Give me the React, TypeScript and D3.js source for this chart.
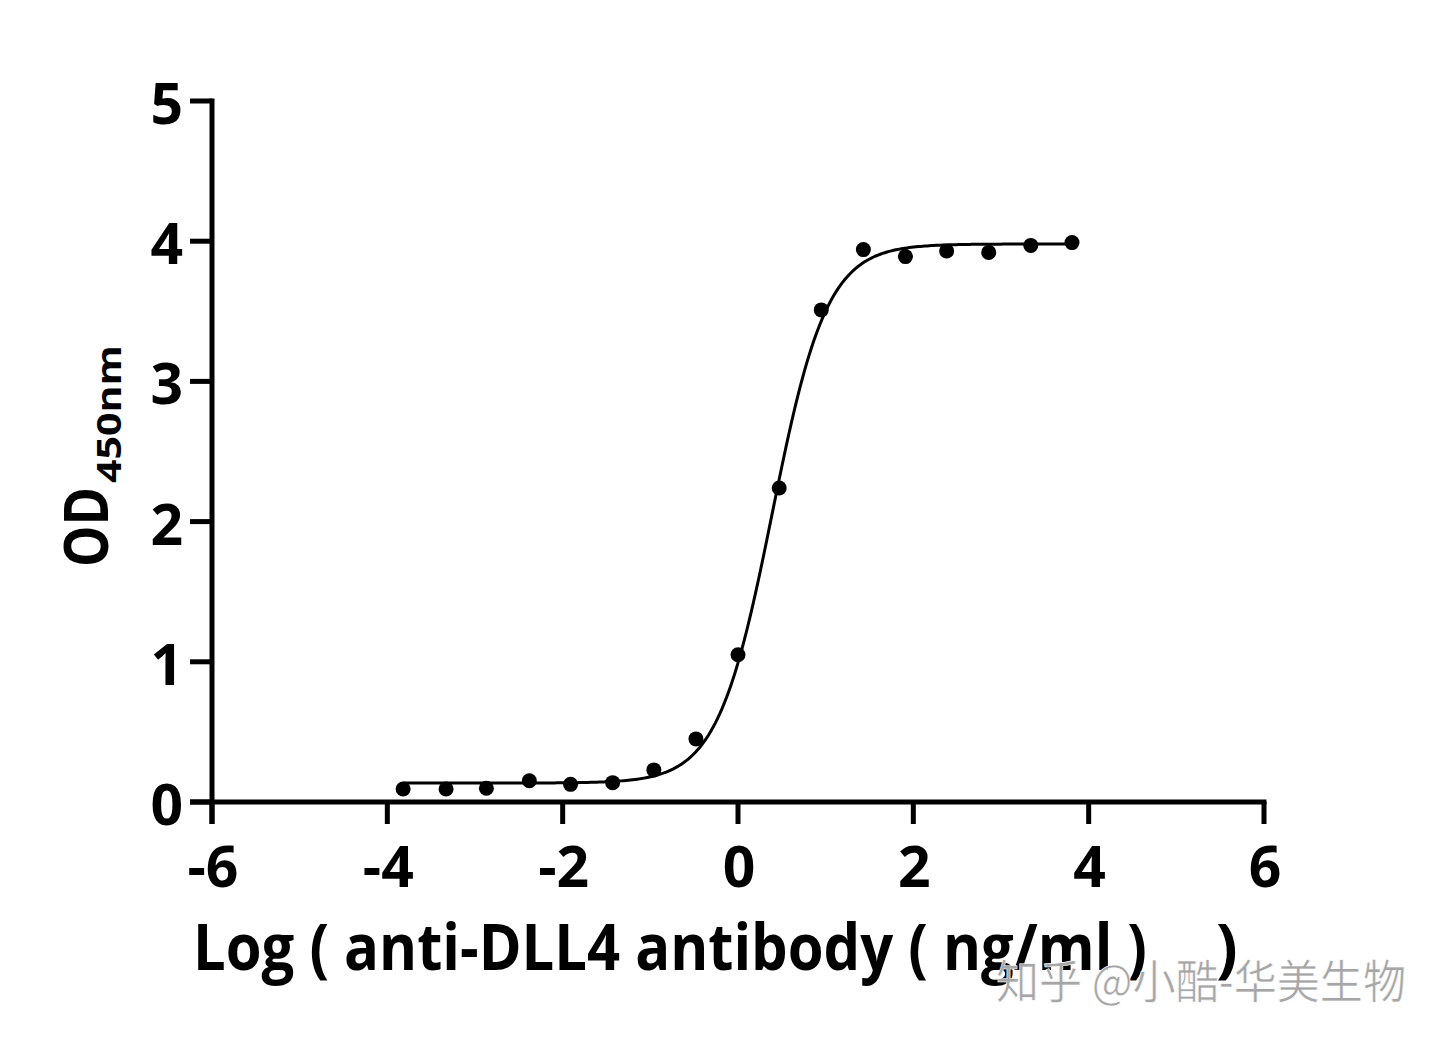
import React from "react";
import * as d3 from "d3";

// Measured data (log10 concentration, OD450)
const logConc = [-3.82, -3.33, -2.87, -2.38, -1.91, -1.43, -0.96, -0.48, 0.0, 0.47, 0.95, 1.43, 1.91, 2.38, 2.86, 3.34, 3.81];
const od450 = [0.093, 0.093, 0.098, 0.152, 0.126, 0.138, 0.229, 0.45, 1.05, 2.24, 3.51, 3.94, 3.89, 3.93, 3.92, 3.97, 3.99];

// Four-parameter logistic fit shown as the curve
const fitBottom = 0.135;
const fitTop = 3.98;
const fitLogEC50 = 0.39;
const fitHill = 1.39;

const xTicks = [-6, -4, -2, 0, 2, 4, 6];
const yTicks = [0, 1, 2, 3, 4, 5];

const W = 1440;
const H = 1039;

export default function App() {
  const x = d3.scaleLinear().domain([-6, 6]).range([212, 1264]);
  const y = d3.scaleLinear().domain([0, 5]).range([802, 101]);

  const fit = (lx: number) => fitBottom + (fitTop - fitBottom) / (1 + Math.pow(10, (fitLogEC50 - lx) * fitHill));
  const xmin = d3.min(logConc) as number;
  const xmax = d3.max(logConc) as number;
  const curveX = d3.range(0, 301).map((i) => xmin + ((xmax - xmin) * i) / 300);
  const line = d3
    .line<number>()
    .x((d) => x(d))
    .y((d) => y(fit(d)))
    .curve(d3.curveLinear);

  const tickLen = 22;
  const axisW = 5;
  const font = "'Open Sans', 'DejaVu Sans', sans-serif";

  return (
    <svg
      width={W}
      height={H}
      viewBox={`0 0 ${W} ${H}`}
      style={{ position: "absolute", left: 0, top: 0, background: "#fff" }}
    >
      <rect x={0} y={0} width={W} height={H} fill="#fff" />
      {/* axes */}
      <line x1={x(-6) - tickLen} x2={x(6) + axisW / 2} y1={y(0)} y2={y(0)} stroke="#000" strokeWidth={axisW} />
      <line x1={x(-6)} x2={x(-6)} y1={y(0) + tickLen} y2={y(5) - axisW / 2} stroke="#000" strokeWidth={axisW} />
      {yTicks.map((t) => (
        <g key={"y" + t}>
          <line x1={x(-6) - tickLen} x2={x(-6)} y1={y(t)} y2={y(t)} stroke="#000" strokeWidth={axisW} />
          <text
            x={183}
            y={y(t) + 23}
            textAnchor="end"
            fontFamily={font}
            fontWeight={700}
            fontSize={57}
            fill="#000"
          >
            {String(t)}
          </text>
        </g>
      ))}
      {xTicks.map((t) => (
        <g key={"x" + t}>
          <line x1={x(t)} x2={x(t)} y1={y(0)} y2={y(0) + tickLen} stroke="#000" strokeWidth={axisW} />
          <text
            x={x(t) + 1}
            y={887}
            textAnchor="middle"
            fontFamily={font}
            fontWeight={700}
            fontSize={57}
            fill="#000"
          >
            {String(t)}
          </text>
        </g>
      ))}

      {/* fitted curve */}
      <path d={line(curveX) || ""} fill="none" stroke="#000" strokeWidth={3} />

      {/* data points */}
      {logConc.map((lx, i) => (
        <circle key={i} cx={x(lx)} cy={y(od450[i])} r={7.5} fill="#000" />
      ))}

      {/* y axis title */}
      <g transform="rotate(-90)">
        <text
          x={-567}
          y={108}
          fontFamily={font}
          fontWeight={700}
          fontSize={60}
          textLength={80}
          lengthAdjust="spacingAndGlyphs"
          fill="#000"
        >
          OD
        </text>
        <text
          x={-483}
          y={121}
          fontFamily={font}
          fontWeight={700}
          fontSize={34}
          textLength={138}
          lengthAdjust="spacingAndGlyphs"
          fill="#000"
        >
          450nm
        </text>
      </g>

      {/* x axis title */}
      <text
        x={193}
        y={970}
        fontFamily={font}
        fontWeight={700}
        fontSize={64}
        textLength={954}
        lengthAdjust="spacingAndGlyphs"
        fill="#000"
      >
        Log ( anti-DLL4 antibody ( ng/ml )
      </text>
      <text x={1216} y={970} fontFamily={font} fontWeight={700} fontSize={64} fill="#000">
        )
      </text>

      {/* watermark */}
      <text
        x={996}
        y={998}
        fontFamily="'Noto Sans CJK SC', sans-serif"
        fontSize={46}
        textLength={410}
        lengthAdjust="spacingAndGlyphs"
        fill="#a6a6a6"
        stroke="#ffffff"
        strokeWidth={0.6}
      >
        知乎 @小酷-华美生物
      </text>
    </svg>
  );
}
